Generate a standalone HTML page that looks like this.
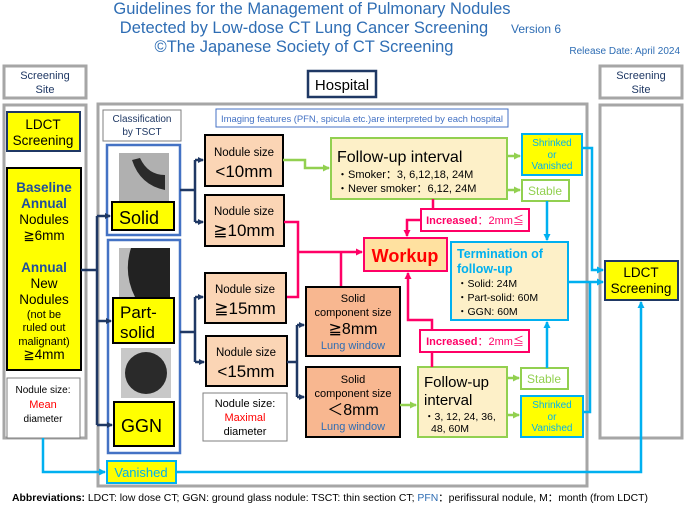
<!DOCTYPE html>
<html><head><meta charset="utf-8"><style>
body{margin:0;background:#fff}
svg{display:block;font-family:"Liberation Sans",Arial,sans-serif}
</style></head><body>
<svg width="685" height="505" viewBox="0 0 685 505" xmlns="http://www.w3.org/2000/svg">
<defs>
<marker id="an" markerWidth="6" markerHeight="6" refX="5" refY="3" orient="auto" markerUnits="userSpaceOnUse"><path d="M0,0L6,3L0,6z" fill="#1f3864"/></marker>
<marker id="ag" markerWidth="7" markerHeight="7" refX="6" refY="3.5" orient="auto" markerUnits="userSpaceOnUse"><path d="M0,0L7,3.5L0,7z" fill="#92d050"/></marker>
<marker id="ap" markerWidth="7" markerHeight="7" refX="6" refY="3.5" orient="auto" markerUnits="userSpaceOnUse"><path d="M0,0L7,3.5L0,7z" fill="#ff0066"/></marker>
<marker id="ab" markerWidth="7" markerHeight="7" refX="6" refY="3.5" orient="auto" markerUnits="userSpaceOnUse"><path d="M0,0L7,3.5L0,7z" fill="#00b0f0"/></marker>
</defs>
<!-- title -->
<g fill="#2e6db4" font-size="16.5" text-anchor="middle">
<text x="312" y="14">Guidelines for the Management of Pulmonary Nodules</text>
<text x="304" y="33">Detected by Low-dose CT Lung Cancer Screening</text>
<text x="304" y="52">©The Japanese Society of CT Screening</text>
</g>
<text x="511" y="33" fill="#2e6db4" font-size="12">Version 6</text>
<text x="680" y="54" fill="#2e6db4" font-size="10" text-anchor="end">Release Date: April 2024</text>

<!-- big frames -->
<g fill="#fff" stroke="#a6a6a6" stroke-width="3">
<rect x="4" y="66" width="82" height="32"/>
<rect x="4" y="105" width="82" height="333"/>
<rect x="98" y="104" width="489" height="382"/>
<rect x="600" y="66" width="82" height="32"/>
<rect x="600" y="105" width="82" height="333"/>
</g>
<g font-size="11" fill="#1f3864" text-anchor="middle">
<text x="45" y="79">Screening</text><text x="45" y="93">Site</text>
<text x="641" y="79">Screening</text><text x="641" y="93">Site</text>
</g>
<rect x="308" y="71" width="68" height="26" fill="#fff" stroke="#1f3864" stroke-width="2.5"/>
<text x="342" y="90" font-size="15" text-anchor="middle">Hospital</text>

<rect x="103" y="110" width="78" height="31" fill="#fff" stroke="#7f7f7f"/>
<text x="142" y="122" font-size="10" text-anchor="middle" fill="#1f3864">Classification</text>
<text x="142" y="135" font-size="10" text-anchor="middle" fill="#1f3864">by TSCT</text>
<rect x="216" y="109" width="292" height="18" fill="#fff" stroke="#4472c4"/>
<text x="362" y="122" font-size="9.5" text-anchor="middle" fill="#4472c4" textLength="282">Imaging features (PFN, spicula etc.)are interpreted by each hospital</text>

<!-- left column -->
<rect x="7" y="112" width="73" height="39" fill="#ffff00" stroke="#1f3864" stroke-width="2"/>
<text x="43" y="129" font-size="13.5" text-anchor="middle">LDCT</text>
<text x="43" y="145" font-size="13.5" text-anchor="middle">Screening</text>
<rect x="7" y="168" width="74" height="202" fill="#ffff00" stroke="#000" stroke-width="2"/>
<g font-size="13.5" text-anchor="middle">
<text x="44" y="192" fill="#1f4e9c" font-weight="bold">Baseline</text>
<text x="44" y="208" fill="#1f4e9c" font-weight="bold">Annual</text>
<text x="44" y="224">Nodules</text>
<text x="44" y="240">≧6mm</text>
<text x="44" y="272" fill="#1f4e9c" font-weight="bold">Annual</text>
<text x="44" y="288">New</text>
<text x="44" y="304">Nodules</text>
<text x="44" y="318" font-size="11">(not be</text>
<text x="44" y="331" font-size="11">ruled out</text>
<text x="44" y="345" font-size="11">malignant)</text>
<text x="44" y="359">≧4mm</text>
</g>
<rect x="7" y="378" width="73" height="60" fill="#fff" stroke="#7f7f7f"/>
<g font-size="10" text-anchor="middle">
<text x="43" y="393">Nodule size:</text>
<text x="43" y="408" fill="#ff0000" font-size="11">Mean</text>
<text x="43" y="422">diameter</text>
</g>

<!-- classification groups -->
<rect x="107" y="145" width="73" height="90" fill="#fff" stroke="#4472c4" stroke-width="2.5"/>
<rect x="108" y="240" width="72" height="213" fill="#fff" stroke="#4472c4" stroke-width="2.5"/>
<rect x="119" y="153" width="50" height="48" fill="#b0b0b0"/>
<path d="M132,160 Q140,185 165,190 L165,175 Q148,175 140,158z" fill="#2a2a2a"/>
<rect x="119" y="248" width="51" height="49" fill="#222"/>
<path d="M119,248 h12 q-8,25 4,49 h-16z" fill="#bbb"/>
<rect x="121" y="348" width="50" height="50" fill="#c8c8c8"/>
<circle cx="146" cy="373" r="21" fill="#2a2a2a"/>
<rect x="112" y="202" width="62" height="28" fill="#ffff00" stroke="#000" stroke-width="2"/>
<text x="119" y="224" font-size="18">Solid</text>
<rect x="113" y="298" width="61" height="45" fill="#ffff00" stroke="#000" stroke-width="2"/>
<text x="120" y="318" font-size="17">Part-</text><text x="120" y="338" font-size="17">solid</text>
<rect x="114" y="402" width="60" height="44" fill="#ffff00" stroke="#000" stroke-width="2"/>
<text x="121" y="432" font-size="18">GGN</text>

<!-- nodule size boxes -->
<g fill="#fbd5b5" stroke="#000" stroke-width="2">
<rect x="205" y="135" width="78" height="51"/>
<rect x="205" y="195" width="79" height="51"/>
<rect x="205" y="273" width="81" height="50"/>
<rect x="206" y="336" width="81" height="50"/>
</g>
<g text-anchor="middle">
<text x="244" y="156" font-size="11.5">Nodule size</text><text x="244" y="177" font-size="17">&lt;10mm</text>
<text x="244" y="215" font-size="11.5">Nodule size</text><text x="244" y="236" font-size="17">≧10mm</text>
<text x="245" y="293" font-size="11.5">Nodule size</text><text x="245" y="314" font-size="17">≧15mm</text>
<text x="246" y="356" font-size="11.5">Nodule size</text><text x="246" y="377" font-size="17">&lt;15mm</text>
</g>
<rect x="203" y="393" width="84" height="48" fill="#fff" stroke="#7f7f7f"/>
<g font-size="11" text-anchor="middle">
<text x="245" y="407">Nodule size:</text>
<text x="245" y="421" fill="#ff0000">Maximal</text>
<text x="245" y="435">diameter</text>
</g>

<!-- solid component -->
<g fill="#f8b790" stroke="#000" stroke-width="2">
<rect x="306" y="287" width="94" height="69"/>
<rect x="306" y="367" width="94" height="70"/>
</g>
<g text-anchor="middle">
<text x="353" y="302" font-size="11">Solid</text><text x="353" y="316" font-size="11">component size</text>
<text x="353" y="334" font-size="16">≧8mm</text><text x="353" y="349" font-size="11" fill="#2e6db4">Lung window</text>
<text x="353" y="383" font-size="11">Solid</text><text x="353" y="397" font-size="11">component size</text>
<text x="353" y="415" font-size="16">＜8mm</text><text x="353" y="430" font-size="11" fill="#2e6db4">Lung window</text>
</g>

<!-- follow-up 1 -->
<rect x="331" y="138" width="176" height="61" fill="#fdf0c8" stroke="#92d050" stroke-width="2"/>
<text x="337" y="162" font-size="16">Follow-up interval</text>
<text x="337" y="178" font-size="11">・Smoker：3, 6,12,18, 24M</text>
<text x="337" y="192" font-size="11">・Never smoker：6,12, 24M</text>
<rect x="522" y="134" width="60" height="41" fill="#ffff00" stroke="#00b0f0" stroke-width="2"/>
<g font-size="10" fill="#00b0f0" text-anchor="middle">
<text x="552" y="146">Shrinked</text><text x="552" y="158">or</text><text x="552" y="169">Vanished</text></g>
<rect x="522" y="180" width="47" height="21" fill="#fff" stroke="#92d050" stroke-width="2"/>
<text x="545" y="195" font-size="12" fill="#92d050" text-anchor="middle">Stable</text>

<rect x="421" y="209" width="108" height="22" fill="#fff" stroke="#ff0066" stroke-width="2"/>
<text x="475" y="224" font-size="11" fill="#ff0066" text-anchor="middle"><tspan font-weight="bold">Increased</tspan>：2mm≦</text>

<rect x="364" y="238" width="83" height="33" fill="#ffe1a0" stroke="#ff0066" stroke-width="2"/>
<text x="405" y="262" font-size="18" fill="#ff0000" font-weight="bold" text-anchor="middle">Workup</text>

<rect x="451" y="242" width="117" height="78" fill="#fdf0c8" stroke="#00b0f0" stroke-width="2"/>
<text x="457" y="258" font-size="12.5" fill="#00b0f0" font-weight="bold">Termination of</text>
<text x="457" y="273" font-size="12.5" fill="#00b0f0" font-weight="bold">follow-up</text>
<text x="457" y="287" font-size="10.5">・Solid: 24M</text>
<text x="457" y="301" font-size="10.5">・Part-solid: 60M</text>
<text x="457" y="315" font-size="10.5">・GGN: 60M</text>

<rect x="420" y="330" width="109" height="22" fill="#fff" stroke="#ff0066" stroke-width="2"/>
<text x="475" y="345" font-size="11" fill="#ff0066" text-anchor="middle"><tspan font-weight="bold">Increased</tspan>：2mm≦</text>

<rect x="418" y="367" width="89" height="70" fill="#fdf0c8" stroke="#92d050" stroke-width="2"/>
<text x="424" y="387" font-size="15">Follow-up</text>
<text x="424" y="405" font-size="15">interval</text>
<text x="424" y="420" font-size="10.5">・3, 12, 24, 36,</text>
<text x="431" y="432" font-size="10.5">48, 60M</text>
<rect x="521" y="368" width="47" height="21" fill="#fff" stroke="#92d050" stroke-width="2"/>
<text x="544" y="383" font-size="12" fill="#92d050" text-anchor="middle">Stable</text>
<rect x="521" y="396" width="62" height="41" fill="#ffff00" stroke="#00b0f0" stroke-width="2"/>
<g font-size="10" fill="#00b0f0" text-anchor="middle">
<text x="552" y="408">Shrinked</text><text x="552" y="420">or</text><text x="552" y="431">Vanished</text></g>

<rect x="605" y="261" width="73" height="39" fill="#ffff00" stroke="#1f3864" stroke-width="2"/>
<text x="641" y="277" font-size="13.5" text-anchor="middle">LDCT</text>
<text x="641" y="293" font-size="13.5" text-anchor="middle">Screening</text>

<rect x="107" y="461" width="69" height="22" fill="#ffff00" stroke="#00b0f0" stroke-width="2"/>
<text x="141" y="477" font-size="13" fill="#00b0f0" text-anchor="middle">Vanished</text>

<!-- navy connectors -->
<g stroke="#1f3864" stroke-width="2.5" fill="none">
<path d="M81,270H97M97,216V425"/>
<path d="M97,216H110" marker-end="url(#an)"/>
<path d="M97,321H111" marker-end="url(#an)"/>
<path d="M97,425H112" marker-end="url(#an)"/>
<path d="M180,190H195M195,160V222"/>
<path d="M195,160H203" marker-end="url(#an)"/>
<path d="M195,222H203" marker-end="url(#an)"/>
<path d="M180,332H195M195,297V362"/>
<path d="M195,297H203" marker-end="url(#an)"/>
<path d="M195,362H204" marker-end="url(#an)"/>
<path d="M287,362H297M297,325V397"/>
<path d="M297,325H304" marker-end="url(#an)"/>
<path d="M297,397H304" marker-end="url(#an)"/>
</g>
<!-- green -->
<g stroke="#92d050" stroke-width="2.5" fill="none">
<path d="M283,160H305V168H329" marker-end="url(#ag)"/>
<path d="M507,156H520" marker-end="url(#ag)"/>
<path d="M507,190H520" marker-end="url(#ag)"/>
<path d="M400,405H416" marker-end="url(#ag)"/>
<path d="M507,378H519" marker-end="url(#ag)"/>
<path d="M507,415H519" marker-end="url(#ag)"/>
</g>
<!-- pink -->
<g stroke="#ff0066" stroke-width="2.5" fill="none">
<path d="M284,222H298V297H287"/>
<path d="M298,252H362" marker-end="url(#ap)"/>
<path d="M341,252V286"/>
<path d="M433,199V209"/>
<path d="M421,220H407V236" marker-end="url(#ap)"/>
<path d="M432,367V352M432,330V320H408V273" marker-end="url(#ap)"/>
</g>
<!-- blue -->
<g stroke="#00b0f0" stroke-width="2.5" fill="none">
<path d="M547,201V240" marker-end="url(#ab)"/>
<path d="M547,368V322" marker-end="url(#ab)"/>
<path d="M582,148H592V270H603" marker-end="url(#ab)"/>
<path d="M568,282H603" marker-end="url(#ab)"/>
<path d="M583,412H590V282"/>
<path d="M43,438V472H105" marker-end="url(#ab)"/>
<path d="M176,472H641V302" marker-end="url(#ab)"/>
</g>

<text x="12" y="501" font-size="10.5" textLength="636" lengthAdjust="spacingAndGlyphs"><tspan font-weight="bold">Abbreviations:</tspan> LDCT: low dose CT; GGN: ground glass nodule: TSCT: thin section CT; <tspan fill="#2e6db4">PFN</tspan>：perifissural nodule, M：month (from LDCT)</text>
</svg>
</body></html>
